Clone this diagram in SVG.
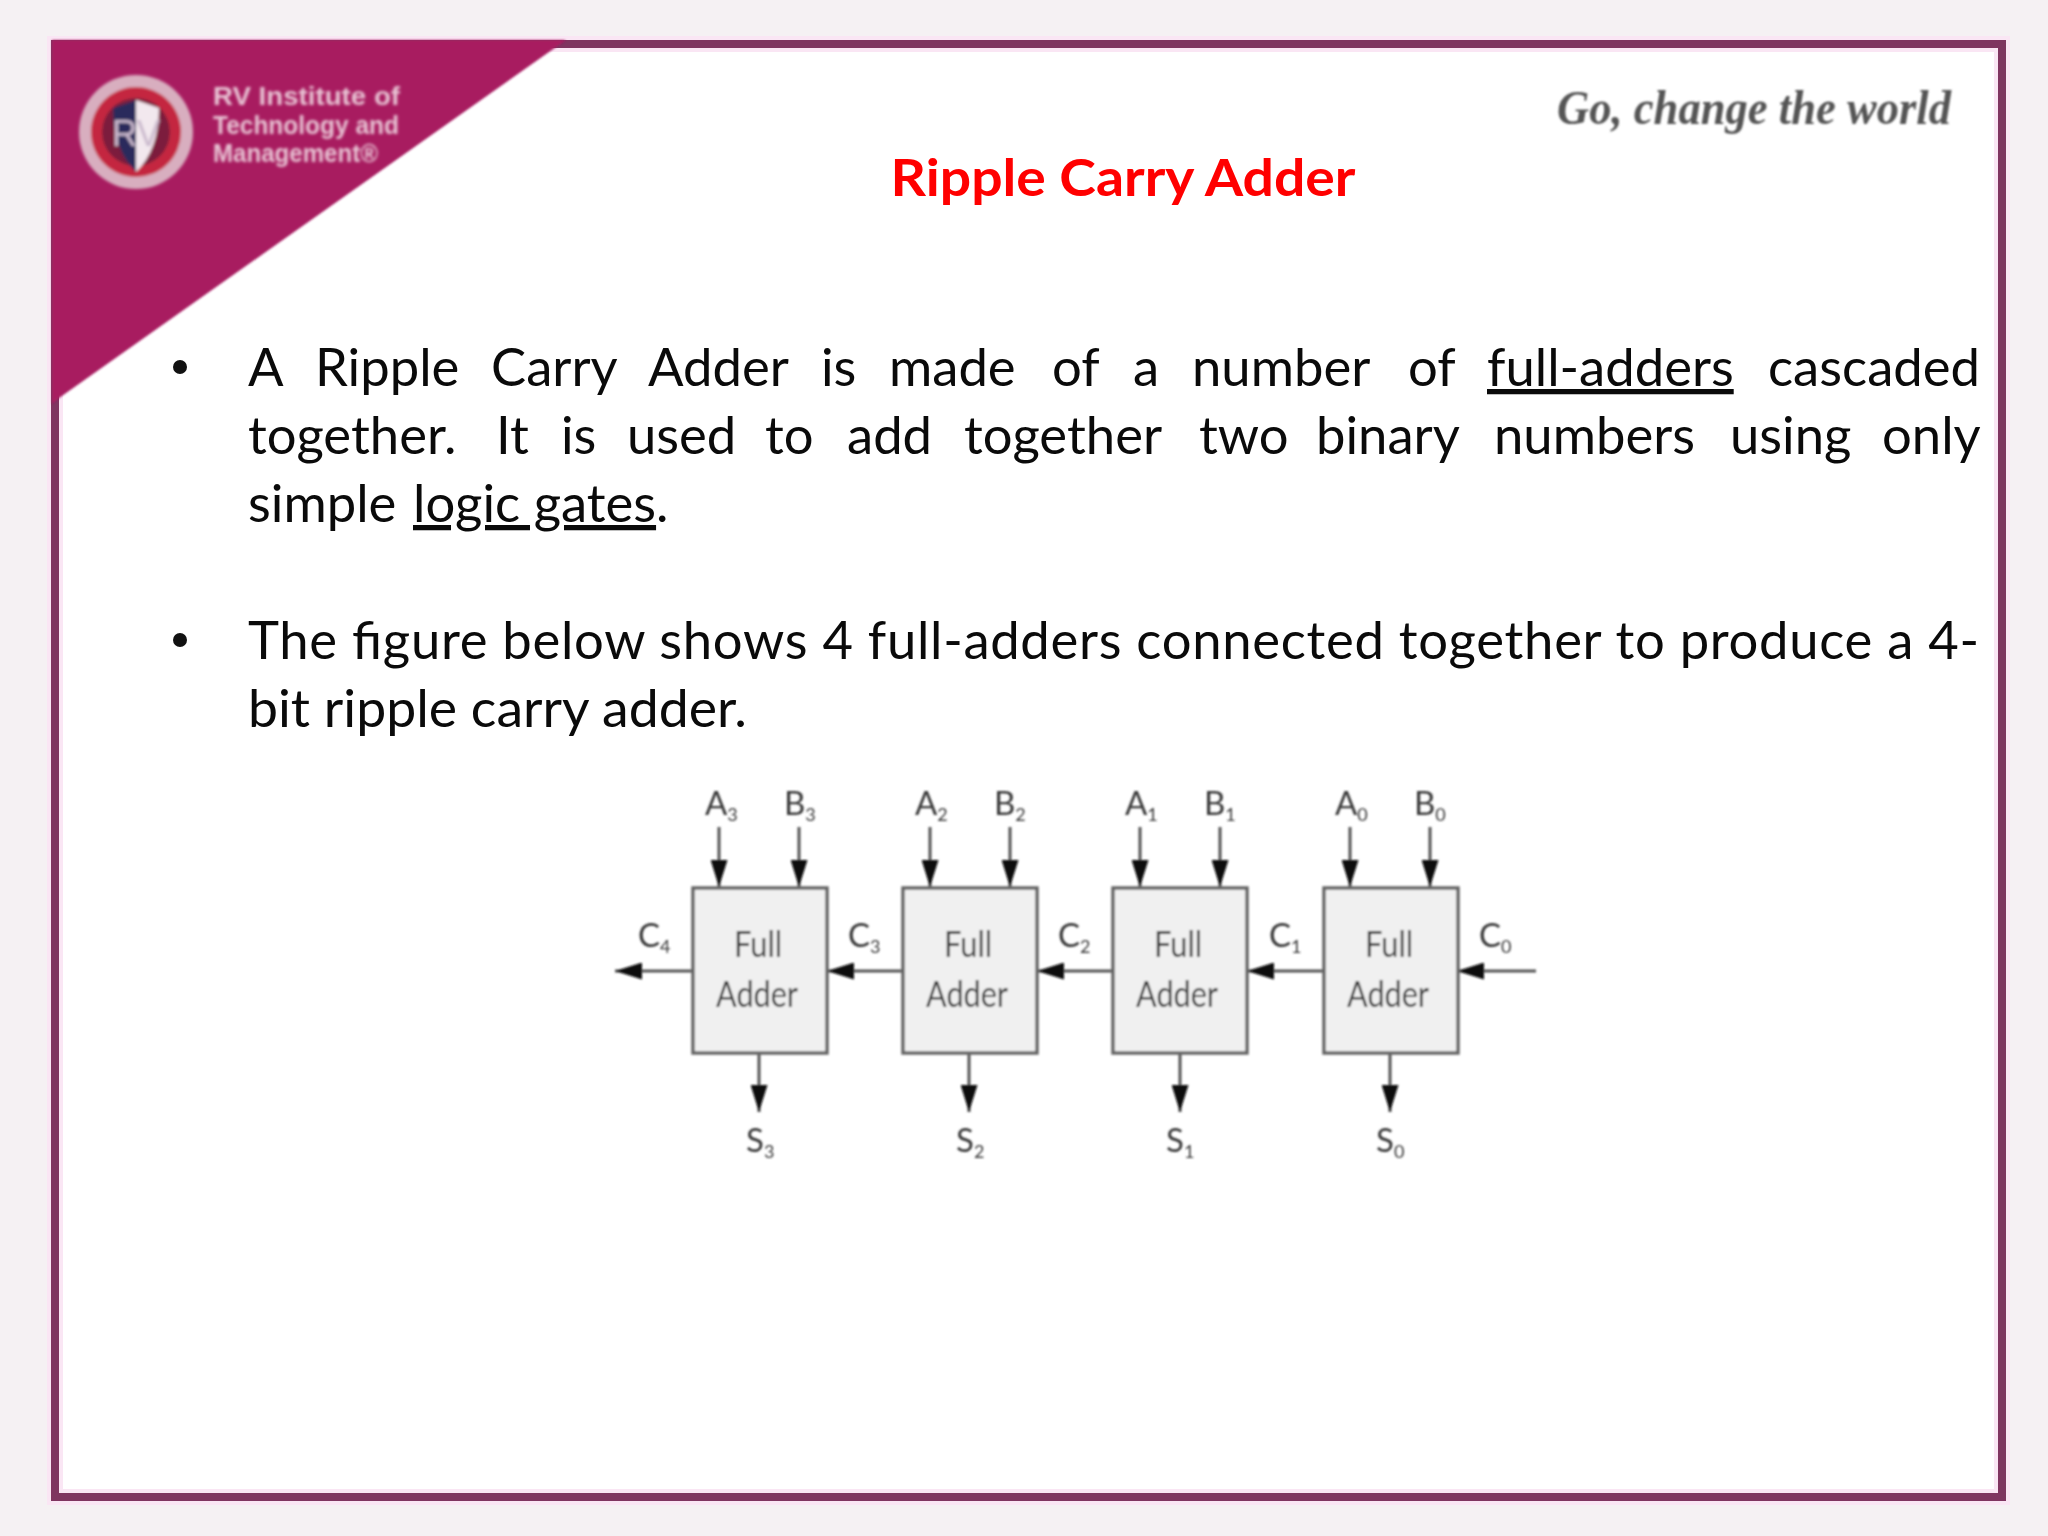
<svg xmlns="http://www.w3.org/2000/svg" width="2048" height="1536" viewBox="0 0 2048 1536">
<defs>
<style>
.body{font-family:"Lato","Carlito","Liberation Sans",sans-serif;font-size:52.6px;fill:#0a0a0a}
.u{text-decoration:underline}
.fa{fill:#f0f0f0;stroke:#666;stroke-width:3.5}
.fat{font-family:"Lato","Liberation Sans",sans-serif;font-size:36px;fill:#3a3a3a;text-anchor:middle}
.lb{font-family:"Lato","Liberation Sans",sans-serif;font-size:33px;fill:#3a3a3a}
.sb{font-size:18px}
.w{stroke:#555;stroke-width:3;fill:none;marker-end:url(#ah)}
.logot{font-family:"Liberation Sans",Arial,sans-serif;font-size:25px;font-weight:bold;fill:#e8c4d4}
</style>
<marker id="ah" markerUnits="userSpaceOnUse" markerWidth="27" markerHeight="17" refX="27" refY="8.5" orient="auto" viewBox="0 0 27 17"><path d="M0 0L27 8.5L0 17z" fill="#111"/></marker>
<filter id="b1" x="-5%" y="-5%" width="110%" height="110%"><feGaussianBlur stdDeviation="1.2"/></filter>
<filter id="b2" x="-5%" y="-5%" width="110%" height="110%"><feGaussianBlur stdDeviation="1.6"/></filter>
</defs>
<rect width="2048" height="1536" fill="#f5f1f3"/>
<g id="frame">
<rect x="55" y="44" width="1947" height="1453" fill="#fff" stroke="#fae6f4" stroke-width="16"/>
<rect x="55" y="44" width="1947" height="1453" fill="none" stroke="#7f3560" stroke-width="8"/>
<path d="M52 40L566 40L59 398L52 404z" fill="#a81c60" filter="url(#b1)"/>
</g>
<g id="logo" filter="url(#b2)">
<circle cx="136" cy="132" r="57" fill="#d8aebf"/>
<circle cx="136" cy="132" r="45" fill="#c4283f"/>
<circle cx="136" cy="132" r="34" fill="#7c1d3c"/>
<path d="M113 108L136 100L136 172Q113 150 113 108z" fill="#2c2a5c"/>
<path d="M136 100L159 108Q159 150 136 172z" fill="#f2e8ee"/>
<text x="112" y="146" font-family="Liberation Sans,sans-serif" font-size="36" fill="#c9b8cc" textLength="48" lengthAdjust="spacingAndGlyphs">RV</text>
</g>
<g id="logo-text" filter="url(#b2)">
<text class="logot" x="213" y="105" textLength="187" lengthAdjust="spacingAndGlyphs">RV Institute of</text>
<text class="logot" x="213" y="134" textLength="186" lengthAdjust="spacingAndGlyphs">Technology and</text>
<text class="logot" x="213" y="162" textLength="165" lengthAdjust="spacingAndGlyphs">Management®</text>
</g>
<text id="motto" x="1557" y="124" font-family="Liberation Serif,serif" font-style="italic" font-weight="bold" font-size="48" fill="#555" textLength="394" lengthAdjust="spacingAndGlyphs" filter="url(#b1)">Go, change the world</text>
<text id="title" x="1123" y="196" text-anchor="middle" font-family="Lato,Liberation Sans,sans-serif" font-weight="bold" font-size="52" fill="#f00" textLength="465" lengthAdjust="spacingAndGlyphs">Ripple Carry Adder</text>
<g id="bullets" fill="#111"><circle cx="180" cy="367" r="7"/><circle cx="180" cy="640" r="7"/></g>
<text class="body" y="386"><tspan x="248">A</tspan><tspan x="315">Ripple</tspan><tspan x="491">Carry</tspan><tspan x="648">Adder</tspan><tspan x="821">is</tspan><tspan x="889">made</tspan><tspan x="1052">of</tspan><tspan x="1133">a</tspan><tspan x="1192">number</tspan><tspan x="1408">of</tspan><tspan x="1487" class="u">full-adders</tspan><tspan x="1768">cascaded</tspan></text>
<text class="body" y="454"><tspan x="248">together.</tspan><tspan x="496">It</tspan><tspan x="561">is</tspan><tspan x="627">used</tspan><tspan x="765">to</tspan><tspan x="847">add</tspan><tspan x="964">together</tspan><tspan x="1199">two</tspan><tspan x="1316">binary</tspan><tspan x="1494">numbers</tspan><tspan x="1730">using</tspan><tspan x="1882">only</tspan></text>
<text class="body" y="522"><tspan x="248">simple </tspan><tspan x="413" class="u">logic gates</tspan><tspan>.</tspan></text>
<text class="body" x="248" y="659" textLength="1731" lengthAdjust="spacing">The figure below shows 4 full-adders connected together to produce a 4-</text>
<text class="body" x="248" y="727" textLength="499" lengthAdjust="spacingAndGlyphs">bit ripple carry adder.</text>
<g id="figure" filter="url(#b1)">
<g id="connectors">
<path class="w" d="M719 827V887"/><path class="w" d="M799 827V887"/>
<path class="w" d="M930 827V887"/><path class="w" d="M1010 827V887"/>
<path class="w" d="M1140 827V887"/><path class="w" d="M1220 827V887"/>
<path class="w" d="M1350 827V887"/><path class="w" d="M1430 827V887"/>
<path class="w" d="M693 971H615"/><path class="w" d="M903 971H827"/><path class="w" d="M1113 971H1037"/><path class="w" d="M1324 971H1247"/><path class="w" d="M1536 971H1457"/>
<path class="w" d="M759 1053V1112"/><path class="w" d="M969 1053V1112"/><path class="w" d="M1180 1053V1112"/><path class="w" d="M1390 1053V1112"/>
</g>
<g id="fa3"><rect class="fa" x="693" y="888" width="134" height="165"/><text class="fat" x="758" y="957" textLength="48" lengthAdjust="spacingAndGlyphs">Full</text><text class="fat" x="757" y="1007" textLength="82" lengthAdjust="spacingAndGlyphs">Adder</text></g>
<g id="fa2"><rect class="fa" x="903" y="888" width="134" height="165"/><text class="fat" x="968" y="957" textLength="48" lengthAdjust="spacingAndGlyphs">Full</text><text class="fat" x="967" y="1007" textLength="82" lengthAdjust="spacingAndGlyphs">Adder</text></g>
<g id="fa1"><rect class="fa" x="1113" y="888" width="134" height="165"/><text class="fat" x="1178" y="957" textLength="48" lengthAdjust="spacingAndGlyphs">Full</text><text class="fat" x="1177" y="1007" textLength="82" lengthAdjust="spacingAndGlyphs">Adder</text></g>
<g id="fa0"><rect class="fa" x="1324" y="888" width="134" height="165"/><text class="fat" x="1389" y="957" textLength="48" lengthAdjust="spacingAndGlyphs">Full</text><text class="fat" x="1388" y="1007" textLength="82" lengthAdjust="spacingAndGlyphs">Adder</text></g>
<g id="labels">
<text class="lb" x="705" y="815">A<tspan class="sb" dy="6">3</tspan></text>
<text class="lb" x="784" y="815">B<tspan class="sb" dy="6">3</tspan></text>
<text class="lb" x="915" y="815">A<tspan class="sb" dy="6">2</tspan></text>
<text class="lb" x="994" y="815">B<tspan class="sb" dy="6">2</tspan></text>
<text class="lb" x="1125" y="815">A<tspan class="sb" dy="6">1</tspan></text>
<text class="lb" x="1204" y="815">B<tspan class="sb" dy="6">1</tspan></text>
<text class="lb" x="1335" y="815">A<tspan class="sb" dy="6">0</tspan></text>
<text class="lb" x="1414" y="815">B<tspan class="sb" dy="6">0</tspan></text>
<text class="lb" x="638" y="947">C<tspan class="sb" dy="6">4</tspan></text>
<text class="lb" x="848" y="947">C<tspan class="sb" dy="6">3</tspan></text>
<text class="lb" x="1058" y="947">C<tspan class="sb" dy="6">2</tspan></text>
<text class="lb" x="1269" y="947">C<tspan class="sb" dy="6">1</tspan></text>
<text class="lb" x="1479" y="947">C<tspan class="sb" dy="6">0</tspan></text>
<text class="lb" x="746" y="1152">S<tspan class="sb" dy="6">3</tspan></text>
<text class="lb" x="956" y="1152">S<tspan class="sb" dy="6">2</tspan></text>
<text class="lb" x="1166" y="1152">S<tspan class="sb" dy="6">1</tspan></text>
<text class="lb" x="1376" y="1152">S<tspan class="sb" dy="6">0</tspan></text>
</g>
</g>
</svg>
